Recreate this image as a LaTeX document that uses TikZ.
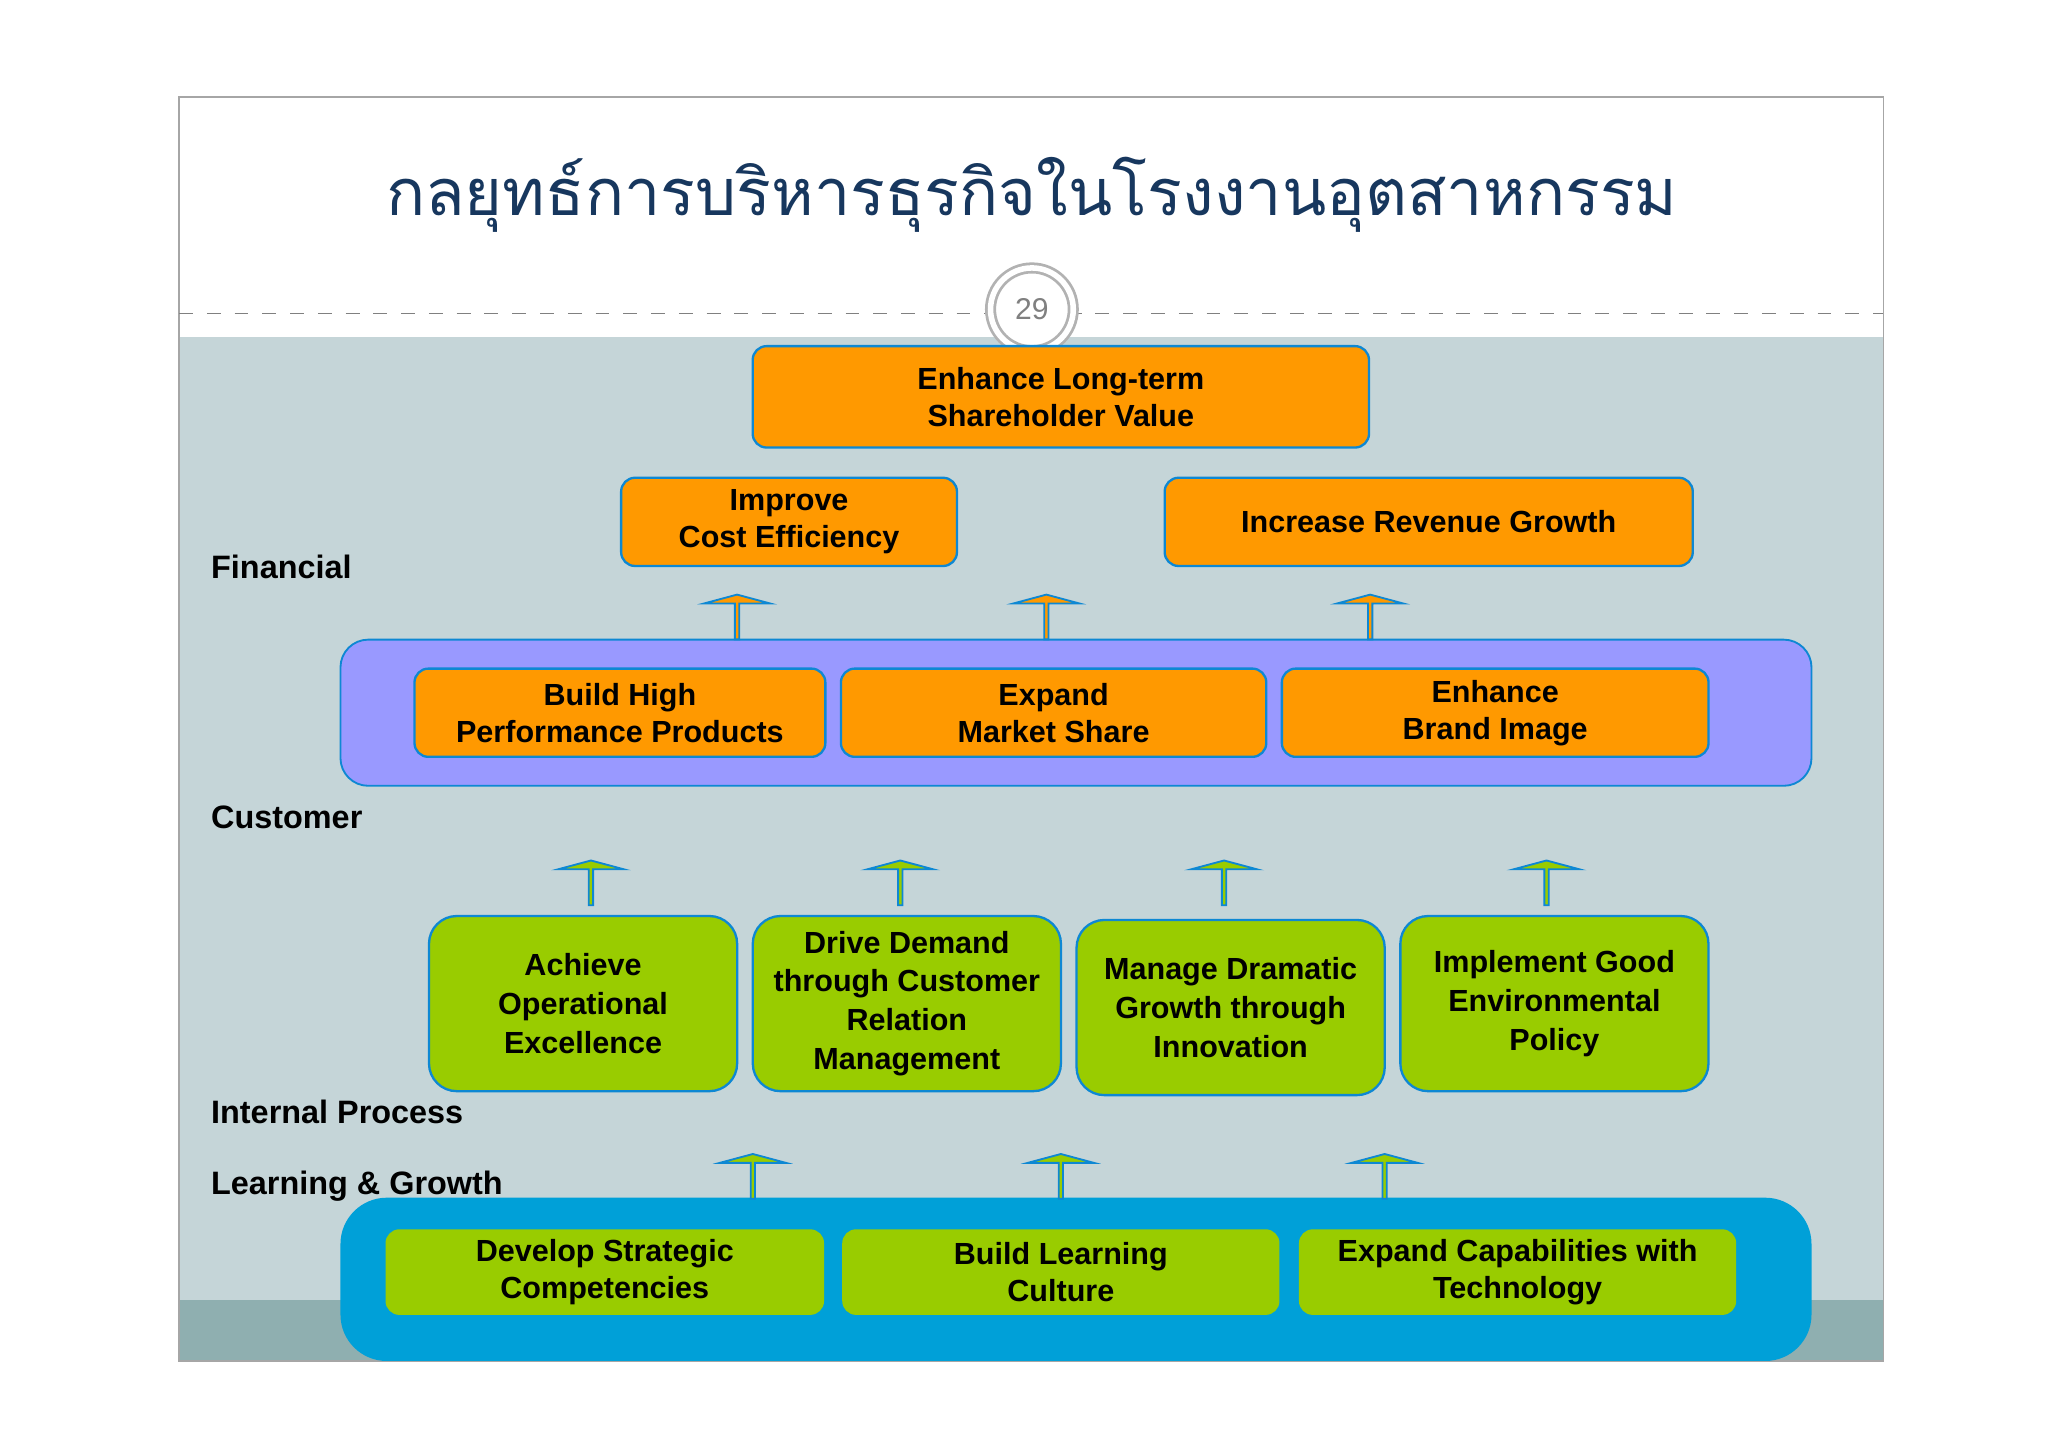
\documentclass[tikz,border=0pt]{standalone}
\usepackage{fontspec}
\setmainfont{Liberation Sans}
\newfontfamily\thaifont[Script=Thai]{Loma}
\usetikzlibrary{shapes.arrows}
\definecolor{slidebg}{HTML}{C5D5D8}
\definecolor{bandbg}{HTML}{8FAFB0}
\definecolor{orangebox}{HTML}{FF9900}
\definecolor{greenbox}{HTML}{99CC00}
\definecolor{purplepanel}{HTML}{9999FF}
\definecolor{bluepanel}{HTML}{00A0D8}
\definecolor{titleblue}{HTML}{17375E}
\tikzset{
  obox/.style={draw=cyan!70!blue, fill=orangebox, rounded corners=3pt, line width=0.5pt,
    align=center, font=\fontsize{6.6}{8}\selectfont\bfseries, inner sep=0pt},
  gbox/.style={draw=cyan!70!blue, fill=greenbox, rounded corners=6pt, line width=0.5pt,
    align=center, font=\fontsize{6.6}{8.4}\selectfont\bfseries, inner sep=0pt},
  lbox/.style={fill=greenbox, rounded corners=3pt, align=center,
    font=\fontsize{6.6}{8}\selectfont\bfseries, inner sep=0pt},
  uparrow/.style={single arrow, draw=cyan!70!blue, fill=#1, rotate=90, minimum height=0.34cm,
    minimum width=0.5cm, single arrow head extend=0.1cm, single arrow tip angle=150, inner sep=0pt, line width=0.4pt},
  side/.style={anchor=west, font=\fontsize{7}{8}\selectfont\bfseries}
}
\begin{document}
\begin{tikzpicture}[x=0.01cm, y=-0.01cm]
  \useasboundingbox (0,0) rectangle (1556,1100);
  \fill[white] (0,0) rectangle (1556,1100);
  % slide
  \fill[slidebg] (136,256) rectangle (1431,1034);
  \fill[bandbg] (136,988) rectangle (1431,1034);
  \draw[gray!70, line width=0.4pt] (136,74) rectangle (1431,1034);
  \draw[gray, dashed, line width=0.3pt] (136,238) -- (1431,238);
  \node[text=titleblue, font=\thaifont\fontsize{14}{16}\selectfont] (title) at (784,148) {กลยุทธ์การบริหารธุรกิจในโรงงานอุตสาหกรรม};
  \node[circle, draw=gray!60, double=white, double distance=1.2pt, line width=0.6pt, fill=white,
    minimum size=0.62cm, text=gray, font=\fontsize{6.5}{8}\selectfont] (page) at (784,235) {29};
  % panels
  \node[draw=cyan!70!blue, fill=purplepanel, rounded corners=6pt, minimum width=11.17cm, minimum height=1.11cm] (custpanel) at (817.5,541.5) {};
  \node[fill=bluepanel, rounded corners=10pt, minimum width=11.17cm, minimum height=1.24cm] (learnpanel) at (817.5,972) {};
  % financial
  \node[obox, minimum width=4.68cm, minimum height=0.77cm] (value) at (806,301.5) {Enhance Long-term\\Shareholder Value};
  \node[obox, minimum width=2.55cm, minimum height=0.67cm] (cost) at (599.5,396.5) {Improve\\Cost Efficiency};
  \node[obox, minimum width=4.01cm, minimum height=0.67cm] (revenue) at (1085.5,396.5) {Increase Revenue Growth};
  % customer
  \node[obox, minimum width=3.12cm, minimum height=0.67cm] (products) at (471,541.5) {Build High\\Performance Products};
  \node[obox, minimum width=3.23cm, minimum height=0.67cm] (market) at (800.5,541.5) {Expand\\Market Share};
  \node[obox, minimum width=3.24cm, minimum height=0.67cm] (brand) at (1136,541.5) {Enhance\\Brand Image};
  % internal process
  \node[gbox, minimum width=2.34cm, minimum height=1.33cm] (operational) at (443,762.5) {Achieve\\Operational\\Excellence};
  \node[gbox, minimum width=2.34cm, minimum height=1.33cm] (demand) at (689,762.5) {Drive Demand\\through Customer\\Relation\\Management};
  \node[gbox, minimum width=2.34cm, minimum height=1.33cm] (innovation) at (935,765.5) {Manage Dramatic\\Growth through\\Innovation};
  \node[gbox, minimum width=2.34cm, minimum height=1.33cm] (policy) at (1181,762.5) {Implement Good\\Environmental\\Policy};
  % learning & growth
  \node[lbox, minimum width=3.33cm, minimum height=0.65cm] (competencies) at (459.5,966.5) {Develop Strategic\\Competencies};
  \node[lbox, minimum width=3.32cm, minimum height=0.65cm] (culture) at (806,966.5) {Build Learning\\Culture};
  \node[lbox, minimum width=3.32cm, minimum height=0.65cm] (technology) at (1153,966.5) {Expand Capabilities with\\Technology};
  % arrows
  \foreach \x/\n in {560/oa, 795/ob, 1041/oc}
    \node[uparrow=orangebox] (\n) at (\x,469) {};
  \foreach \x/\n in {449/ga, 684/gb, 930/gc, 1175/gd}
    \node[uparrow=greenbox] (\n) at (\x,671) {};
  \foreach \x/\n in {572/la, 806/lb, 1052/lc}
    \node[uparrow=greenbox] (\n) at (\x,894) {};
  % perspectives
  \node[side] (financial) at (148,431) {Financial};
  \node[side] (customer) at (148,621) {Customer};
  \node[side] (internal) at (148,845) {Internal Process};
  \node[side] (learning) at (148,901) {Learning \& Growth};
\end{tikzpicture}
\end{document}
